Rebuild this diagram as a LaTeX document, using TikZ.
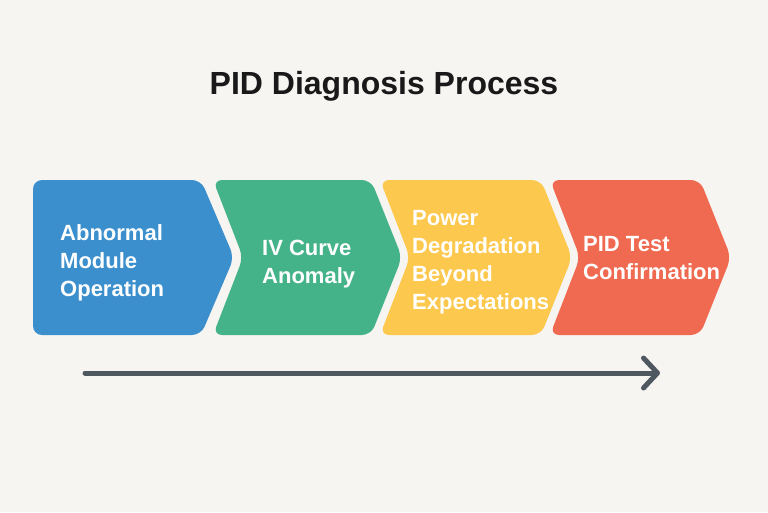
\documentclass[tikz,border=0pt]{standalone}
\usepackage{fontspec}
\setmainfont{Liberation Sans}
\usetikzlibrary{arrows.meta}
\definecolor{paper}{HTML}{F7F5F2}
\definecolor{stepblue}{HTML}{3B8FCC}
\definecolor{stepgreen}{HTML}{45B38A}
\definecolor{stepyellow}{HTML}{FDC84E}
\definecolor{stepred}{HTML}{EF6A50}
\definecolor{flowgray}{HTML}{4F5760}

\begin{document}
\begin{tikzpicture}[x=1pt,y=-1pt,
  chevron/.style={fill=#1,rounded corners=9pt},
  steptext/.style={anchor=west,inner sep=0pt,align=left,text=white,font=\fontsize{22}{28}\selectfont\bfseries}]
\fill[paper] (0,0) rectangle (768,512);
\useasboundingbox (0,0) rectangle (768,512);
\node[font=\fontsize{32}{38}\selectfont\bfseries,text=black!90] (title) at (384,86) {PID Diagnosis Process};
% chevrons: left edge / tip / colour
\fill[chevron=stepblue] (33,180) -- (201,180) -- (234,257.5) -- (201,335) -- (33,335) -- cycle;
\foreach \l/\t/\c in {213/402/stepgreen,380/572/stepyellow,550/731/stepred}
  \fill[chevron=\c] (\l,180) -- (\t-31,180) -- (\t,257.5) -- (\t-31,335) -- (\l,335) -- (\l+30,257.5) -- cycle;
\node[steptext] (abnormal) at (60,263) {Abnormal\\Module\\Operation};
\node[steptext] (ivcurve) at (262,264) {IV Curve\\Anomaly};
\node[steptext] (powerdeg) at (412,262) {Power\\Degradation\\Beyond\\Expectations};
\node[steptext] (pidtest) at (583,258) {PID Test\\Confirmation};
% progress arrow
\coordinate (flowstart) at (85,373);
\coordinate (flowend) at (660,373);
\draw[flowgray,line width=5pt,line cap=round,-{Straight Barb[length=14pt,width=30pt,line cap=round,line join=round]}] (flowstart) -- (flowend);
\end{tikzpicture}
\end{document}
